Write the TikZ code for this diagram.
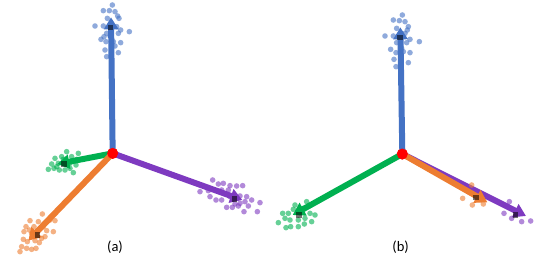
\documentclass[tikz,border=0pt]{standalone}
\usepackage{fontspec}
\setmainfont{Carlito}
\usetikzlibrary{arrows.meta}
\definecolor{cblue}{RGB}{68,114,196}
\definecolor{corange}{RGB}{237,125,49}
\definecolor{cgreen}{RGB}{0,176,80}
\definecolor{cpurple}{RGB}{126,58,192}
\definecolor{cred}{RGB}{255,0,0}
\tikzset{
  vec/.style={line width=6pt,-{Triangle[width=14pt,length=12pt]}},
  pt/.style={circle,inner sep=0pt,minimum size=5.6pt,fill=#1,fill opacity=0.6,draw=none},
  sq/.style={rectangle,inner sep=0pt,minimum size=5.2pt,fill=black,fill opacity=0.55,draw=none},
  orig/.style={circle,inner sep=0pt,minimum size=11pt,fill=cred,draw=none},
  lab/.style={font=\fontsize{14.5}{16}\selectfont,inner sep=0pt}
}
\begin{document}
\begin{tikzpicture}
\useasboundingbox (0pt,0pt) rectangle (539pt,-258pt);
% ---------------- panel (a) ----------------
\begin{scope}[x=0.33333pt,y=-0.33333pt]
  \node[orig] (oa) at (338,460) {};
  \coordinate (ba) at (333,52);
  \coordinate (ga) at (172,492);
  \coordinate (ora) at (85,722);
  \coordinate (pa) at (727,600);
  \draw[vec,cblue] (oa.center) -- (ba);
  \draw[vec,cgreen] (oa.center) -- (ga);
  \draw[vec,corange] (oa.center) -- (ora);
  \draw[vec,cpurple] (oa.center) -- (pa);
  \node[orig] (oa2) at (oa) {};
  \foreach \p in {(337,15),(310,32),(328,32),(345,35),(353,48),(322,55),(357,55),(285,78),(310,78),(350,80),(362,90),(388,95),(320,100),(355,100),(303,118),(318,125),(340,125),(362,128),(345,138),(315,150),(355,158),(320,170),(330,108),(312,110)}
    \node[pt=cblue] at \p {};
  \foreach \p in {(200,455),(235,460),(165,475),(185,470),(215,470),(230,478),(155,492),(175,490),(210,490),(228,495),(145,508),(162,505),(178,510),(195,510),(210,505),(220,518),(190,478),(170,500)}
    \node[pt=cgreen] at \p {};
  \foreach \p in {(127,642),(90,662),(150,660),(115,665),(78,680),(102,680),(130,680),(165,662),(140,692),(160,695),(72,695),(95,700),(125,715),(70,718),(82,725),(105,722),(118,728),(65,740),(80,745),(95,748),(108,745),(60,755),(135,710),(88,690)}
    \node[pt=corange] at \p {};
  \foreach \p in {(638,540),(655,552),(670,550),(690,557),(710,558),(728,557),(600,575),(625,572),(665,570),(685,570),(630,590),(648,600),(665,600),(690,590),(720,588),(740,590),(755,600),(780,608),(705,612),(720,610),(735,605),(680,622),(697,622),(715,618),(745,618),(772,635),(732,635)}
    \node[pt=cpurple] at \p {};
  \node[sq] (sba) at (331,82) {};
  \node[sq] (sga) at (192,492) {};
  \node[sq] (soa) at (113,705) {};
  \node[sq] (spa) at (703,597) {};
  \node[lab] (la) at (345,742) {(a)};
\end{scope}
% ---------------- panel (b) ----------------
\begin{scope}[shift={(270pt,0pt)},x=0.33333pt,y=-0.33333pt]
  \node[orig] (ob) at (397,462) {};
  \coordinate (bb) at (391,82);
  \coordinate (gb) at (68,645);
  \coordinate (orb) at (652,607);
  \coordinate (pb) at (768,648);
  \draw[vec,cblue] (ob.center) -- (bb);
  \draw[vec,cgreen] (ob.center) -- (gb);
  \draw[vec,cpurple] (ob.center) -- (pb);
  \draw[vec,corange] (ob.center) -- (orb);
  \node[orig] (ob2) at (ob) {};
  \foreach \p in {(397,45),(370,60),(388,62),(405,65),(415,80),(380,85),(412,90),(345,108),(370,108),(420,118),(448,125),(380,128),(410,128),(362,148),(378,158),(400,155),(420,158),(395,145),(372,178),(415,188),(378,200),(405,100)}
    \node[pt=cblue] at \p {};
  \foreach \p in {(110,605),(75,615),(70,628),(100,625),(38,640),(55,640),(90,632),(120,640),(135,645),(25,668),(45,655),(60,660),(85,660),(105,655),(125,665),(48,683),(62,680),(85,680),(103,672)}
    \node[pt=cgreen] at \p {};
  \foreach \p in {(605,555),(578,595),(607,615),(640,612)}
    \node[pt=corange] at \p {};
  \foreach \p in {(718,605),(702,640),(725,655),(755,665),(782,663)}
    \node[pt=cpurple] at \p {};
  \node[sq] (sbb) at (390,112) {};
  \node[sq] (sgb) at (87,645) {};
  \node[sq] (sob) at (618,593) {};
  \node[sq] (spb) at (737,645) {};
  \node[lab] (lb) at (392,742) {(b)};
\end{scope}
\end{tikzpicture}
\end{document}
